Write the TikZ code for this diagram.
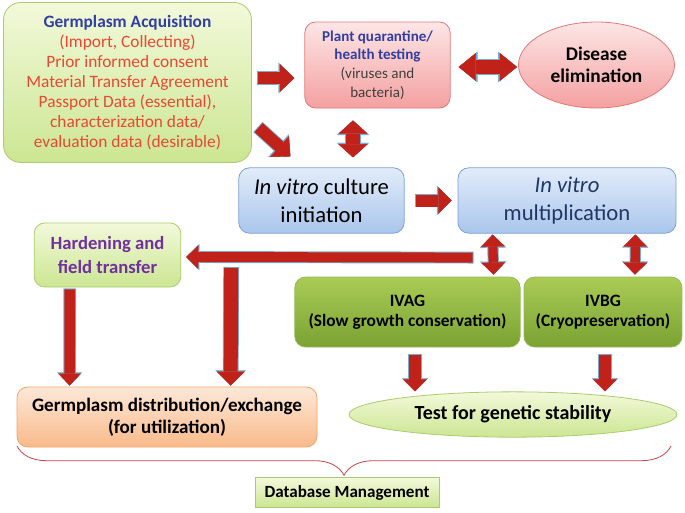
\documentclass[tikz,border=0pt]{standalone}
\usepackage{fontspec}
\setmainfont{Carlito}
\usepackage{tikz}
\usetikzlibrary{arrows.meta,calc,shapes.geometric,decorations.pathreplacing}

\definecolor{arrowred}{RGB}{192,34,26}
\definecolor{arrowedge}{RGB}{118,172,208}
\definecolor{titleblue}{RGB}{50,62,160}
\definecolor{redtext}{RGB}{232,72,52}
\definecolor{navytext}{RGB}{31,56,100}
\definecolor{purpletext}{RGB}{112,48,160}
\definecolor{greytext}{RGB}{64,64,64}
\definecolor{greenedge}{RGB}{170,204,110}
\definecolor{greentop}{RGB}{242,249,218}
\definecolor{greenbot}{RGB}{204,230,146}
\definecolor{pinkedge}{RGB}{226,120,120}
\definecolor{pinktop}{RGB}{253,230,230}
\definecolor{pinkbot}{RGB}{244,160,160}
\definecolor{blueedge}{RGB}{122,160,214}
\definecolor{bluetop}{RGB}{226,236,250}
\definecolor{bluebot}{RGB}{170,198,236}
\definecolor{oliveedge}{RGB}{150,186,86}
\definecolor{olivetop}{RGB}{170,204,86}
\definecolor{olivebot}{RGB}{122,162,50}
\definecolor{orangeedge}{RGB}{242,166,104}
\definecolor{orangetop}{RGB}{253,232,216}
\definecolor{orangebot}{RGB}{249,186,138}
\definecolor{bracered}{RGB}{200,70,70}

\tikzset{
  box/.style={draw, rounded corners=8pt, align=center, inner sep=2pt, line width=0.6pt},
  greenbox/.style={box, draw=greenedge, top color=greentop, bottom color=greenbot},
  pinkbox/.style={box, draw=pinkedge, top color=pinktop, bottom color=pinkbot},
  bluebox/.style={box, draw=blueedge, top color=bluetop, bottom color=bluebot},
  olivebox/.style={box, draw=oliveedge, top color=olivetop, bottom color=olivebot},
  orangebox/.style={box, draw=orangeedge, top color=orangetop, bottom color=orangebot},
  fat/.style n args={3}{draw=arrowred, line width=#1, shorten <=0.7pt,
    -{Triangle[length=#3,width=#2,line width=0.3pt]},
    preaction={draw=arrowedge, line width=#1+1.4pt, shorten <=0pt,
      -{Triangle[length=#3,width=#2,scale=1.1,line width=0.3pt]}}},
  fatboth/.style n args={3}{draw=arrowred, line width=#1,
    {Triangle[length=#3,width=#2,line width=0.3pt]}-{Triangle[length=#3,width=#2,line width=0.3pt]},
    preaction={draw=arrowedge, line width=#1+1.4pt,
      {Triangle[length=#3,width=#2,scale=1.1,line width=0.3pt]}-{Triangle[length=#3,width=#2,scale=1.1,line width=0.3pt]}}},
}

\begin{document}
\begin{tikzpicture}[x=0.75pt,y=-0.75pt]
  \useasboundingbox (0,0) rectangle (685,512);
  % boxes
  \node[greenbox, rounded corners=13pt, minimum width=186pt, minimum height=120pt, text=redtext,
    font=\fontsize{13}{15}\selectfont] (germ) at (127.5,82.5)
    {\textcolor{titleblue}{\bfseries Germplasm Acquisition}\\(Import, Collecting)\\Prior informed consent\\
     Material Transfer Agreement\\Passport Data (essential),\\characterization data/\\evaluation data (desirable)};
  \node[pinkbox, minimum width=109pt, minimum height=64.5pt, text=greytext,
    font=\fontsize{11.3}{14}\selectfont] (pq) at (377.5,65)
    {\textcolor{titleblue}{\bfseries Plant quarantine/}\\\textcolor{titleblue}{\bfseries health testing}\\(viruses and\\bacteria)};
  \node[pinkbox, ellipse, minimum width=117pt, minimum height=64.5pt,
    font=\bfseries\fontsize{14.5}{16.5}\selectfont] (dis) at (596.5,65) {Disease\\elimination};
  \node[bluebox, minimum width=124pt, minimum height=49pt,
    font=\fontsize{17}{21}\selectfont] (ivc) at (321.5,200.5) {\textit{In vitro} culture\\initiation};
  \node[bluebox, minimum width=163.5pt, minimum height=49pt, text=navytext,
    font=\fontsize{17}{21}\selectfont] (ivm) at (567,200.5) {\textit{In vitro}\\multiplication};
  \node[greenbox, minimum width=110pt, minimum height=48pt, text=purpletext,
    font=\bfseries\fontsize{14}{18}\selectfont] (hard) at (107.5,255) {Hardening and\\field transfer};
  \node[olivebox, minimum width=169pt, minimum height=52.5pt,
    font=\bfseries\fontsize{13}{15}\selectfont] (ivag) at (407.5,312) {IVAG\\(Slow growth conservation)};
  \node[olivebox, minimum width=118.5pt, minimum height=52.5pt,
    font=\bfseries\fontsize{13}{15}\selectfont] (ivbg) at (603,312) {IVBG\\(Cryopreservation)};
  \node[greenbox, ellipse, minimum width=246pt, minimum height=34pt, inner sep=0pt,
    font=\bfseries\fontsize{15}{17}\selectfont] (test) at (513,414.5) {Test for genetic stability};
  \node[orangebox, minimum width=225pt, minimum height=45pt,
    font=\bfseries\fontsize{14.3}{16.8}\selectfont] (dist) at (167,417) {Germplasm distribution/exchange\\(for utilization)};
  \node[greenbox, rounded corners=0pt, minimum width=138pt, minimum height=22pt,
    font=\bfseries\fontsize{12.8}{14}\selectfont] (db) at (347,492.5) {Database Management};
  % arrows
  \draw[fat={9pt}{21pt}{11pt}] ($(germ.east)+(5,-4.5)$) -- ($(pq.west)+(-10,13)$);
  \draw[fat={9pt}{21pt}{11pt}] ($(germ.east)+(6,44.5)$) -- ($(ivc.north west)+(52,-11)$);
  \draw[fatboth={10pt}{21pt}{13pt}] ($(pq.east)+(8,2)$) -- ($(dis.west)+(-1,2)$);
  \draw[fatboth={10pt}{22pt}{10pt}] ($(pq.south)+(-24.5,12)$) -- ($(ivc.north)+(31.5,-10)$);
  \draw[fat={9pt}{20pt}{10pt}] ($(ivc.east)+(10,0)$) -- ($(ivm.west)+(-6,0)$);
  \draw[fat={7.5pt}{18pt}{9pt}] ($(ivm.south west)+(16,24)$) -- ($(hard.east)+(5,2)$);
  \draw[fatboth={7pt}{18pt}{9pt}] ($(ivm.south west)+(35,1)$) -- ($(ivag.north east)+(-27,-2)$);
  \draw[fatboth={7pt}{18pt}{9pt}] ($(ivm.south east)+(-41,1)$) -- ($(ivbg.north)+(32,-2)$);
  \draw[fat={8pt}{17pt}{9pt}] ($(hard.south west)+(36,1)$) -- ($(dist.north west)+(53,-1)$);
  \draw[fat={10.5pt}{21pt}{10.5pt}] ($(hard.east)+(50,12)$) -- ($(dist.north west)+(214,-1)$);
  \draw[fat={8.5pt}{18pt}{9pt}] ($(ivag.south)+(7.5,7)$) -- ($(test.north)+(-98,0)$);
  \draw[fat={8.5pt}{18pt}{9pt}] ($(ivbg.south)+(2,7)$) -- ($(test.north)+(92,0)$);
  % brace to database
  \coordinate (braceL) at (17,446);
  \coordinate (braceR) at (671,446);
  \draw[draw=bracered, line width=0.6pt, decorate,
    decoration={brace, mirror, amplitude=22pt}] (braceL) -- (braceR);
\end{tikzpicture}
\end{document}
